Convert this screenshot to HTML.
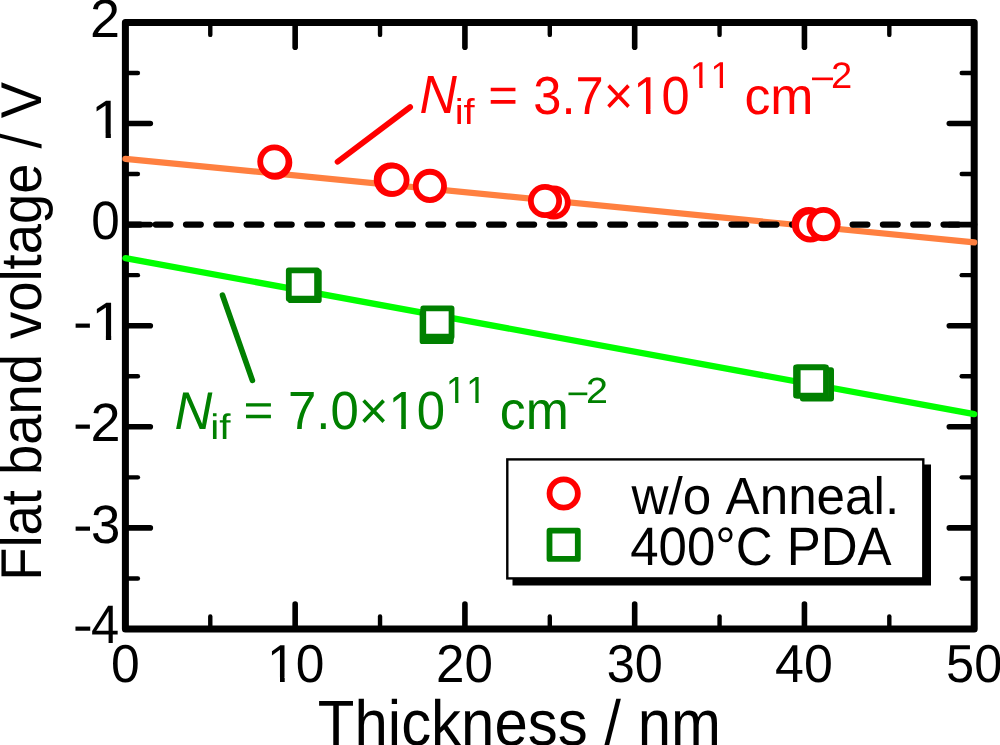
<!DOCTYPE html>
<html><head><meta charset="utf-8"><title>Flat band voltage vs thickness</title>
<style>html,body{margin:0;padding:0;background:#fff;width:1000px;height:745px;overflow:hidden}svg{display:block}</style>
</head><body>
<svg width="1000" height="745" viewBox="0 0 1000 745" font-family="'Liberation Sans', sans-serif" text-rendering="geometricPrecision" style="font-kerning:none">
<rect x="0" y="0" width="1000" height="745" fill="#fff"/>
<g stroke="#000" stroke-linecap="round" fill="none"><line x1="210.28" y1="629.00" x2="210.28" y2="616.50" stroke-width="4.4"/><line x1="210.28" y1="22.40" x2="210.28" y2="34.90" stroke-width="4.4"/><line x1="295.16" y1="629.00" x2="295.16" y2="604.10" stroke-width="5.6"/><line x1="295.16" y1="22.40" x2="295.16" y2="47.30" stroke-width="5.6"/><line x1="380.04" y1="629.00" x2="380.04" y2="616.50" stroke-width="4.4"/><line x1="380.04" y1="22.40" x2="380.04" y2="34.90" stroke-width="4.4"/><line x1="464.92" y1="629.00" x2="464.92" y2="604.10" stroke-width="5.6"/><line x1="464.92" y1="22.40" x2="464.92" y2="47.30" stroke-width="5.6"/><line x1="549.80" y1="629.00" x2="549.80" y2="616.50" stroke-width="4.4"/><line x1="549.80" y1="22.40" x2="549.80" y2="34.90" stroke-width="4.4"/><line x1="634.68" y1="629.00" x2="634.68" y2="604.10" stroke-width="5.6"/><line x1="634.68" y1="22.40" x2="634.68" y2="47.30" stroke-width="5.6"/><line x1="719.56" y1="629.00" x2="719.56" y2="616.50" stroke-width="4.4"/><line x1="719.56" y1="22.40" x2="719.56" y2="34.90" stroke-width="4.4"/><line x1="804.44" y1="629.00" x2="804.44" y2="604.10" stroke-width="5.6"/><line x1="804.44" y1="22.40" x2="804.44" y2="47.30" stroke-width="5.6"/><line x1="889.32" y1="629.00" x2="889.32" y2="616.50" stroke-width="4.4"/><line x1="889.32" y1="22.40" x2="889.32" y2="34.90" stroke-width="4.4"/><line x1="125.40" y1="578.45" x2="137.90" y2="578.45" stroke-width="4.4"/><line x1="974.20" y1="578.45" x2="961.70" y2="578.45" stroke-width="4.4"/><line x1="125.40" y1="527.90" x2="150.30" y2="527.90" stroke-width="5.6"/><line x1="974.20" y1="527.90" x2="949.30" y2="527.90" stroke-width="5.6"/><line x1="125.40" y1="477.35" x2="137.90" y2="477.35" stroke-width="4.4"/><line x1="974.20" y1="477.35" x2="961.70" y2="477.35" stroke-width="4.4"/><line x1="125.40" y1="426.80" x2="150.30" y2="426.80" stroke-width="5.6"/><line x1="974.20" y1="426.80" x2="949.30" y2="426.80" stroke-width="5.6"/><line x1="125.40" y1="376.25" x2="137.90" y2="376.25" stroke-width="4.4"/><line x1="974.20" y1="376.25" x2="961.70" y2="376.25" stroke-width="4.4"/><line x1="125.40" y1="325.70" x2="150.30" y2="325.70" stroke-width="5.6"/><line x1="974.20" y1="325.70" x2="949.30" y2="325.70" stroke-width="5.6"/><line x1="125.40" y1="275.15" x2="137.90" y2="275.15" stroke-width="4.4"/><line x1="974.20" y1="275.15" x2="961.70" y2="275.15" stroke-width="4.4"/><line x1="125.40" y1="224.60" x2="150.30" y2="224.60" stroke-width="5.6"/><line x1="974.20" y1="224.60" x2="949.30" y2="224.60" stroke-width="5.6"/><line x1="125.40" y1="174.05" x2="137.90" y2="174.05" stroke-width="4.4"/><line x1="974.20" y1="174.05" x2="961.70" y2="174.05" stroke-width="4.4"/><line x1="125.40" y1="123.50" x2="150.30" y2="123.50" stroke-width="5.6"/><line x1="974.20" y1="123.50" x2="949.30" y2="123.50" stroke-width="5.6"/><line x1="125.40" y1="72.95" x2="137.90" y2="72.95" stroke-width="4.4"/><line x1="974.20" y1="72.95" x2="961.70" y2="72.95" stroke-width="4.4"/></g>
<rect x="125.4" y="22.4" width="848.80" height="606.60" fill="none" stroke="#000" stroke-width="7" stroke-linejoin="round"/>
<line x1="125.4" y1="158.8" x2="974.2" y2="242.4" stroke="#FF8040" stroke-width="6.2" stroke-linecap="round"/>
<line x1="125.4" y1="258.1" x2="974.2" y2="414.1" stroke="#00FF00" stroke-width="6.3" stroke-linecap="round"/>
<line x1="125.4" y1="224.60" x2="974.2" y2="224.60" stroke="#000" stroke-width="6.2" stroke-dasharray="14.8 15.5" stroke-linecap="round"/>
<line x1="337.6" y1="161.7" x2="410.1" y2="107.1" stroke="#FF0000" stroke-width="5.8" stroke-linecap="round"/>
<line x1="222.5" y1="295.2" x2="252.4" y2="380.4" stroke="#008000" stroke-width="5.6" stroke-linecap="round"/>
<circle cx="275.25" cy="162.6" r="14.15" fill="#fff" stroke="#FF0000" stroke-width="5.8"/>
<circle cx="274.35" cy="161.5" r="14.15" fill="#fff" stroke="#FF0000" stroke-width="5.8"/>
<circle cx="390.8" cy="179.6" r="14.15" fill="#fff" stroke="#FF0000" stroke-width="5.8"/>
<circle cx="392.5" cy="179.75" r="14.15" fill="#fff" stroke="#FF0000" stroke-width="5.8"/>
<circle cx="429.9" cy="185.9" r="14.15" fill="#fff" stroke="#FF0000" stroke-width="5.8"/>
<circle cx="553.65" cy="202.55" r="14.15" fill="#fff" stroke="#FF0000" stroke-width="5.8"/>
<circle cx="545.0" cy="201.0" r="14.15" fill="#fff" stroke="#FF0000" stroke-width="5.8"/>
<circle cx="808.7" cy="224.0" r="14.15" fill="#fff" stroke="#FF0000" stroke-width="5.8"/>
<circle cx="810.3" cy="225.4" r="14.15" fill="#fff" stroke="#FF0000" stroke-width="5.8"/>
<circle cx="823.55" cy="224.1" r="14.15" fill="#fff" stroke="#FF0000" stroke-width="5.8"/>
<rect x="290.50" y="271.85" width="28.30" height="28.30" fill="#fff" stroke="#008000" stroke-width="5.8" stroke-linejoin="round"/>
<rect x="288.80" y="270.35" width="28.30" height="28.30" fill="#fff" stroke="#008000" stroke-width="5.8" stroke-linejoin="round"/>
<rect x="422.55" y="312.85" width="28.30" height="28.30" fill="#fff" stroke="#008000" stroke-width="5.8" stroke-linejoin="round"/>
<rect x="423.25" y="308.40" width="28.30" height="28.30" fill="#fff" stroke="#008000" stroke-width="5.8" stroke-linejoin="round"/>
<rect x="802.80" y="370.20" width="28.30" height="28.30" fill="#fff" stroke="#008000" stroke-width="5.8" stroke-linejoin="round"/>
<rect x="796.05" y="367.30" width="28.30" height="28.30" fill="#fff" stroke="#008000" stroke-width="5.8" stroke-linejoin="round"/>
<rect x="797.70" y="367.30" width="28.30" height="28.30" fill="#fff" stroke="#008000" stroke-width="5.8" stroke-linejoin="round"/>
<rect x="512.5" y="464.5" width="418.5" height="121" fill="#000"/>
<rect x="507.3" y="459.4" width="416" height="119" fill="#fff" stroke="#000" stroke-width="2.4"/>
<circle cx="563.7" cy="493.5" r="14.15" fill="#fff" stroke="#FF0000" stroke-width="5.8"/>
<rect x="549.50" y="530.65" width="28.30" height="28.30" fill="#fff" stroke="#008000" stroke-width="5.8" stroke-linejoin="round"/>
<text transform="translate(631.58,514.00) scale(0.9754,1)" font-size="52.50" fill="#000">w/o Anneal.</text>
<text transform="translate(630.23,565.40) scale(0.9445,1)" font-size="54.00" fill="#000">400°C PDA</text>
<text transform="translate(89.98,36.70) scale(1.0000,1)" font-size="54.00" fill="#000">2</text>
<clipPath id="f1c1"><path clip-rule="evenodd" d="M-2000 -2000H4000V2000H-2000ZM1.08 -4.27H13.53V2.70H1.08ZM18.44 -4.27H29.70V2.70H18.44Z"/></clipPath>
<text transform="translate(91.09,138.00) scale(1.0733,1)" font-size="54.00" fill="#000" clip-path="url(#f1c1)">1</text>
<text transform="translate(91.20,239.20) scale(0.9491,1)" font-size="54.00" fill="#000">0</text>
<clipPath id="f1c2"><path clip-rule="evenodd" d="M-2000 -2000H4000V2000H-2000ZM1.08 -4.27H13.53V2.70H1.08ZM18.44 -4.27H29.70V2.70H18.44Z"/></clipPath>
<text transform="translate(91.26,340.30) scale(1.0809,1)" font-size="54.00" fill="#000" clip-path="url(#f1c2)">1</text>
<text transform="translate(73.10,340.30) scale(1.0847,1)" font-size="54.00" fill="#000">-</text>
<text transform="translate(90.48,440.80) scale(1.0000,1)" font-size="54.00" fill="#000">2</text>
<text transform="translate(73.10,440.80) scale(1.0847,1)" font-size="54.00" fill="#000">-</text>
<text transform="translate(90.99,542.50) scale(0.9765,1)" font-size="54.00" fill="#000">3</text>
<text transform="translate(72.98,542.50) scale(1.0923,1)" font-size="54.00" fill="#000">-</text>
<text transform="translate(91.04,643.20) scale(0.9371,1)" font-size="54.00" fill="#000">4</text>
<text transform="translate(72.71,643.20) scale(1.1226,1)" font-size="54.00" fill="#000">-</text>
<text transform="translate(110.88,681.50) scale(0.9658,1)" font-size="53.50" fill="#000">0</text>
<clipPath id="f1c3"><path clip-rule="evenodd" d="M-2000 -2000H4000V2000H-2000ZM1.07 -4.23H13.40V2.68H1.07ZM18.27 -4.23H29.43V2.68H18.27Z"/></clipPath>
<text transform="translate(267.11,681.50) scale(0.9630,1)" font-size="53.50" fill="#000" clip-path="url(#f1c3)">10</text>
<text transform="translate(436.03,681.50) scale(0.9556,1)" font-size="53.50" fill="#000">20</text>
<text transform="translate(606.78,681.50) scale(0.9426,1)" font-size="53.50" fill="#000">30</text>
<text transform="translate(775.11,681.50) scale(0.9699,1)" font-size="53.50" fill="#000">40</text>
<text transform="translate(946.08,681.50) scale(0.9443,1)" font-size="53.50" fill="#000">50</text>
<text transform="translate(317.85,744.80) scale(0.9367,1)" font-size="64.00" fill="#000">Thickness / nm</text>
<text transform="translate(40.60,580.76) rotate(-90) scale(0.9458,1)" font-size="57.5" fill="#000">Flat band voltage / V</text>
<text transform="translate(419.41,113.40) scale(0.9621,1)" font-size="53.78" fill="#FF0000" font-style="italic">N</text>
<text transform="translate(454.72,123.50) scale(1.1116,1)" font-size="36.02" fill="#FF0000">if</text>
<text transform="translate(488.22,111.54) scale(1.0240,1)" font-size="49.65" fill="#FF0000">=</text>
<clipPath id="f1c4"><path clip-rule="evenodd" d="M-2000 -2000H4000V2000H-2000ZM106.89 -4.23H119.24V2.68H106.89ZM124.12 -4.23H135.30V2.68H124.12Z"/></clipPath>
<text transform="translate(533.37,113.68) scale(0.9442,1)" font-size="53.60" fill="#FF0000" clip-path="url(#f1c4)">3.7×10</text>
<clipPath id="f1c5"><path clip-rule="evenodd" d="M-2000 -2000H4000V2000H-2000ZM0.75 -2.95H9.36V1.87H0.75ZM12.76 -2.95H20.55V1.87H12.76ZM21.52 -2.95H30.13V1.87H21.52ZM33.53 -2.95H41.32V1.87H33.53Z"/></clipPath>
<text transform="translate(690.11,87.70) scale(0.9824,1)" font-size="37.36" fill="#FF0000" clip-path="url(#f1c5)">11</text>
<text transform="translate(744.40,113.59) scale(0.9952,1)" font-size="52.02" fill="#FF0000">cm</text>
<text transform="translate(812.00,88.65) scale(0.9448,1)" font-size="40.00" fill="#FF0000">–</text>
<text transform="translate(831.08,88.00) scale(1.0337,1)" font-size="36.95" fill="#FF0000">2</text>
<text transform="translate(174.49,428.80) scale(0.9916,1)" font-size="52.91" fill="#008000" font-style="italic">N</text>
<text transform="translate(210.19,438.60) scale(1.1375,1)" font-size="35.61" fill="#008000">if</text>
<text transform="translate(243.40,426.02) scale(1.1011,1)" font-size="46.55" fill="#008000">=</text>
<clipPath id="f1c6"><path clip-rule="evenodd" d="M-2000 -2000H4000V2000H-2000ZM107.03 -4.24H119.40V2.68H107.03ZM124.28 -4.24H135.47V2.68H124.28Z"/></clipPath>
<text transform="translate(287.99,428.98) scale(0.9484,1)" font-size="53.67" fill="#008000" clip-path="url(#f1c6)">7.0×10</text>
<clipPath id="f1c7"><path clip-rule="evenodd" d="M-2000 -2000H4000V2000H-2000ZM0.76 -2.99H9.47V1.89H0.76ZM12.91 -2.99H20.79V1.89H12.91ZM21.77 -2.99H30.48V1.89H21.77ZM33.92 -2.99H41.80V1.89H33.92Z"/></clipPath>
<text transform="translate(446.05,403.00) scale(0.9611,1)" font-size="37.79" fill="#008000" clip-path="url(#f1c7)">11</text>
<text transform="translate(499.80,429.07) scale(0.9582,1)" font-size="54.03" fill="#008000">cm</text>
<text transform="translate(568.60,403.95) scale(0.8458,1)" font-size="40.00" fill="#008000">–</text>
<text transform="translate(586.01,403.00) scale(1.0862,1)" font-size="36.38" fill="#008000">2</text>
</svg>
</body></html>
